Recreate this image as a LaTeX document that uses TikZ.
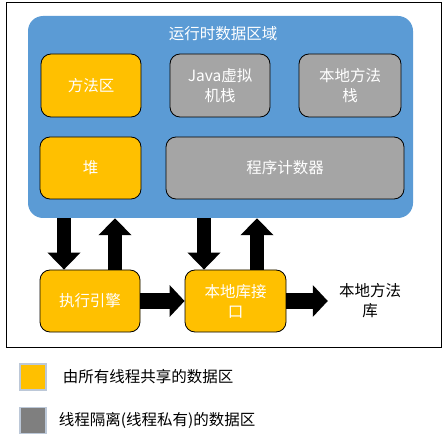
\documentclass[tikz,border=0pt]{standalone}
\usepackage{fontspec}
\setmainfont{Noto Sans CJK SC}
\usetikzlibrary{arrows.meta, positioning}

\definecolor{areablue}{HTML}{5B9BD5}
\definecolor{shared}{HTML}{FFC000}
\definecolor{private}{HTML}{A5A5A5}
\definecolor{privatekey}{HTML}{7F7F7F}
\definecolor{keyedge}{HTML}{BCC8D8}

\tikzset{
	cjk/.style={font=\fontsize{15.5}{20}\selectfont},
	area/.style={cjk, rounded corners=10pt, draw=black, line width=0.8pt, text=white, align=center, inner sep=0pt},
	sharedbox/.style={area, fill=shared},
	privatebox/.style={area, fill=private},
	vert/.style={line width=14pt, -{Triangle[width=32pt,length=17pt]}},
	horiz/.style={line width=16pt, -{Triangle[width=31pt,length=15pt]}},
	keybox/.style={draw=keyedge, line width=1.2pt, minimum size=26pt, inner sep=0pt},
	keytext/.style={cjk, anchor=west, inner sep=0pt}
}

\begin{document}
\begin{tikzpicture}[x=1pt, y=-1pt]
	\useasboundingbox (0,0) rectangle (445,441);
	\draw[line width=0.8pt] (6,2) rectangle (441,347);

	\node[rounded corners=15pt, fill=areablue, minimum width=385pt, minimum height=202pt, inner sep=0pt] (region) at (220.5,117) {};
	\node[cjk, text=white] (title) at (223,34) {运行时数据区域};

	\node[sharedbox, minimum width=100pt, minimum height=63pt] (method) at (91,85.5) {方法区};
	\node[privatebox, minimum width=100pt, minimum height=63pt] (jvmstack) at (220,85.5) {Java虚拟\\机栈};
	\node[privatebox, minimum width=102pt, minimum height=63pt] (nstack) at (350,85.5) {本地方法\\栈};
	\node[sharedbox, minimum width=101pt, minimum height=62pt] (heap) at (90.5,168) {堆};
	\node[privatebox, minimum width=238pt, minimum height=62pt] (pc) at (285,168) {程序计数器};

	\node[sharedbox, minimum width=100pt, minimum height=62pt] (exec) at (90,301) {执行引擎};
	\node[sharedbox, minimum width=101pt, minimum height=62pt] (iface) at (235.5,301) {本地库接\\口};
	\node[cjk, align=center, inner xsep=11pt, inner ysep=0pt] (nlib) at (370,301) {本地方法\\库};

	\draw[vert] ([xshift=-26pt]exec.north |- region.south) -- ([xshift=-26pt]exec.north);
	\draw[vert] ([xshift=25pt]exec.north) -- ([xshift=25pt]exec.north |- region.south);
	\draw[vert] ([xshift=-31.5pt]iface.north |- region.south) -- ([xshift=-31.5pt]iface.north);
	\draw[vert] ([xshift=21.5pt]iface.north) -- ([xshift=21.5pt]iface.north |- region.south);
	\draw[horiz] (exec.east) -- (iface.west);
	\draw[horiz] (iface.east) -- (nlib.west);

	\node[keybox, fill=shared] (keyshared) at (33,377) {};
	\node[keytext, right=16pt of keyshared] (keysharedtext) {由所有线程共享的数据区};
	\node[keybox, fill=privatekey] (keyprivate) at (33,420.5) {};
	\node[keytext, right=12pt of keyprivate] (keyprivatetext) {线程隔离(线程私有)的数据区};
\end{tikzpicture}
\end{document}
